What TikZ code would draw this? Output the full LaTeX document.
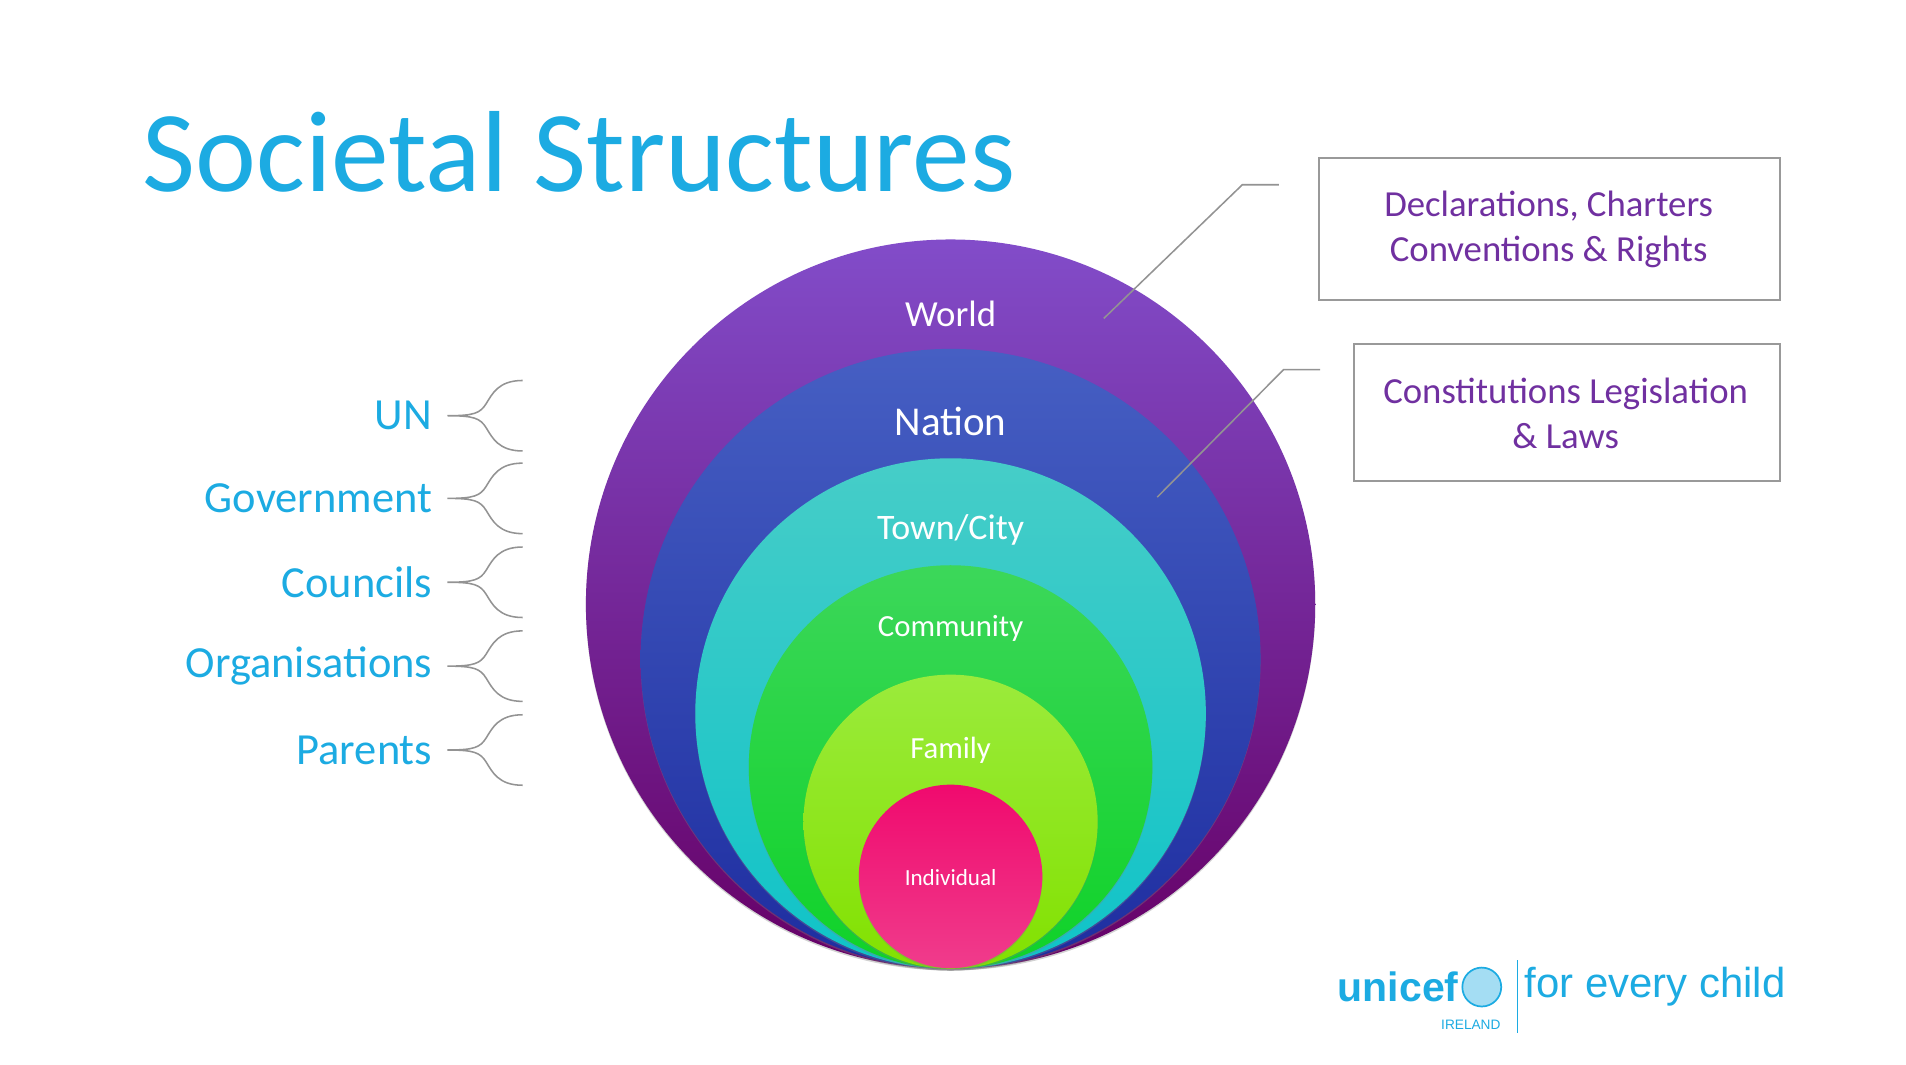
\documentclass[tikz,border=0pt]{standalone}
\usepackage{fontspec}
\setmainfont{Carlito}
\newfontfamily\logofont{Liberation Sans}
\usetikzlibrary{shadows}
\definecolor{ublue}{HTML}{1CABE2}
\definecolor{tpurple}{HTML}{7030A0}
\begin{document}
\begin{tikzpicture}[x=0.05cm,y=-0.05cm,
  ring/.style={draw=none, drop shadow={shadow xshift=0pt,shadow yshift=-2pt,opacity=0.35}},
  clab/.style={text=white,font=\fontsize{#1}{#1}\selectfont},
  side/.style={text=ublue,anchor=east,font=\fontsize{52}{52}\selectfont},
  brace/.style={draw=gray!85,line width=1.8pt},
  box/.style={draw=gray!80,line width=2.2pt,fill=white},
  btext/.style={text=tpurple,align=center,font=\fontsize{43}{53}\selectfont},
  lead/.style={draw=gray!85,line width=1.8pt}]
\useasboundingbox (0,0) rectangle (1568,876);
\fill[white] (0,0) rectangle (1568,876);
\node[anchor=west,text=ublue,font=\fontsize{135}{135}\selectfont] (title) at (115,125) {Societal Structures};
% circles
\shade[ring,top color=violet!60!blue!70!white,bottom color=violet!80!black] (782,497) circle[radius=300];
\shade[ring,top color={rgb,255:red,70;green,95;blue,195},bottom color={rgb,255:red,30;green,45;blue,160}] (782,542) circle[radius=255];
\shade[ring,top color={rgb,255:red,70;green,205;blue,200},bottom color={rgb,255:red,15;green,195;blue,200}] (782,587) circle[radius=210];
\shade[ring,top color={rgb,255:red,60;green,215;blue,90},bottom color={rgb,255:red,15;green,210;blue,40}] (782,631) circle[radius=166];
\shade[ring,top color={rgb,255:red,155;green,235;blue,60},bottom color={rgb,255:red,130;green,225;blue,0}] (782,676) circle[radius=121];
\shade[ring,top color={rgb,255:red,240;green,10;blue,110},bottom color={rgb,255:red,240;green,60;blue,140}] (782,721) circle[radius=75.5];
\node[clab=43] (world) at (782,258) {World};
\node[clab=48] (nation) at (782,347) {Nation};
\node[clab=42] (town) at (782,436) {Town/City};
\node[clab=36] (comm) at (782,517) {Community};
\node[clab=36] (fam) at (782,617) {Family};
\node[clab=27] (ind) at (782,722) {Individual};
% side labels and braces
\foreach \n/\t/\y in {un/UN/342,gov/Government/410,cou/Councils/479,org/Organisations/548,par/Parents/617}{
  \node[side] (\n) at (358,\y) {\t};
  \coordinate (\n tip) at (368,\y);
  \draw[brace] (430,\y-29) .. controls (410,\y-29) and (405,\y-18) .. (400,\y-10)
     .. controls (395,\y-2) and (390,\y) .. (\n tip)
     .. controls (390,\y) and (395,\y+2) .. (400,\y+10)
     .. controls (405,\y+18) and (410,\y+29) .. (430,\y+29);
}
% boxes
\node[box,minimum width=379*0.05cm,minimum height=117*0.05cm] (b1) at (1274.5,188.5) {};
\node[btext] (b1t) at (1274,189) {Declarations, Charters\\Conventions \& Rights};
\node[box,minimum width=350*0.05cm,minimum height=113*0.05cm] (b2) at (1289,339.5) {};
\node[btext] (b2t) at (1288,340) {Constitutions Legislation\\\& Laws};
\coordinate (l1a) at (908,262); \coordinate (l1b) at (1022,152); \coordinate (l1c) at (1052,152);
\coordinate (l2a) at (952,409); \coordinate (l2b) at (1056,304); \coordinate (l2c) at (1086,304);
\draw[lead] (l1a) -- (l1b) -- (l1c);
\draw[lead] (l2a) -- (l2b) -- (l2c);
% logo
\node[anchor=east,text=ublue,font=\logofont\fontsize{48}{48}\selectfont\bfseries,inner sep=0pt] (unicef) at (1200,812) {unicef};
\node[circle,draw=ublue,line width=2pt,fill=ublue!40,minimum size=32*0.05cm] (emb) at (1219,812) {};
\coordinate (vl1) at (1248,790); \coordinate (vl2) at (1248,850);
\draw[ublue,line width=1pt] (vl1) -- (vl2);
\node[anchor=west,text=ublue,font=\logofont\fontsize{49}{49}\selectfont] (fec) at (1252,812) {for every child};
\node[text=ublue,font=\logofont\fontsize{16}{16}\selectfont] (irl) at (1210,843) {IRELAND};
\end{tikzpicture}
\end{document}
